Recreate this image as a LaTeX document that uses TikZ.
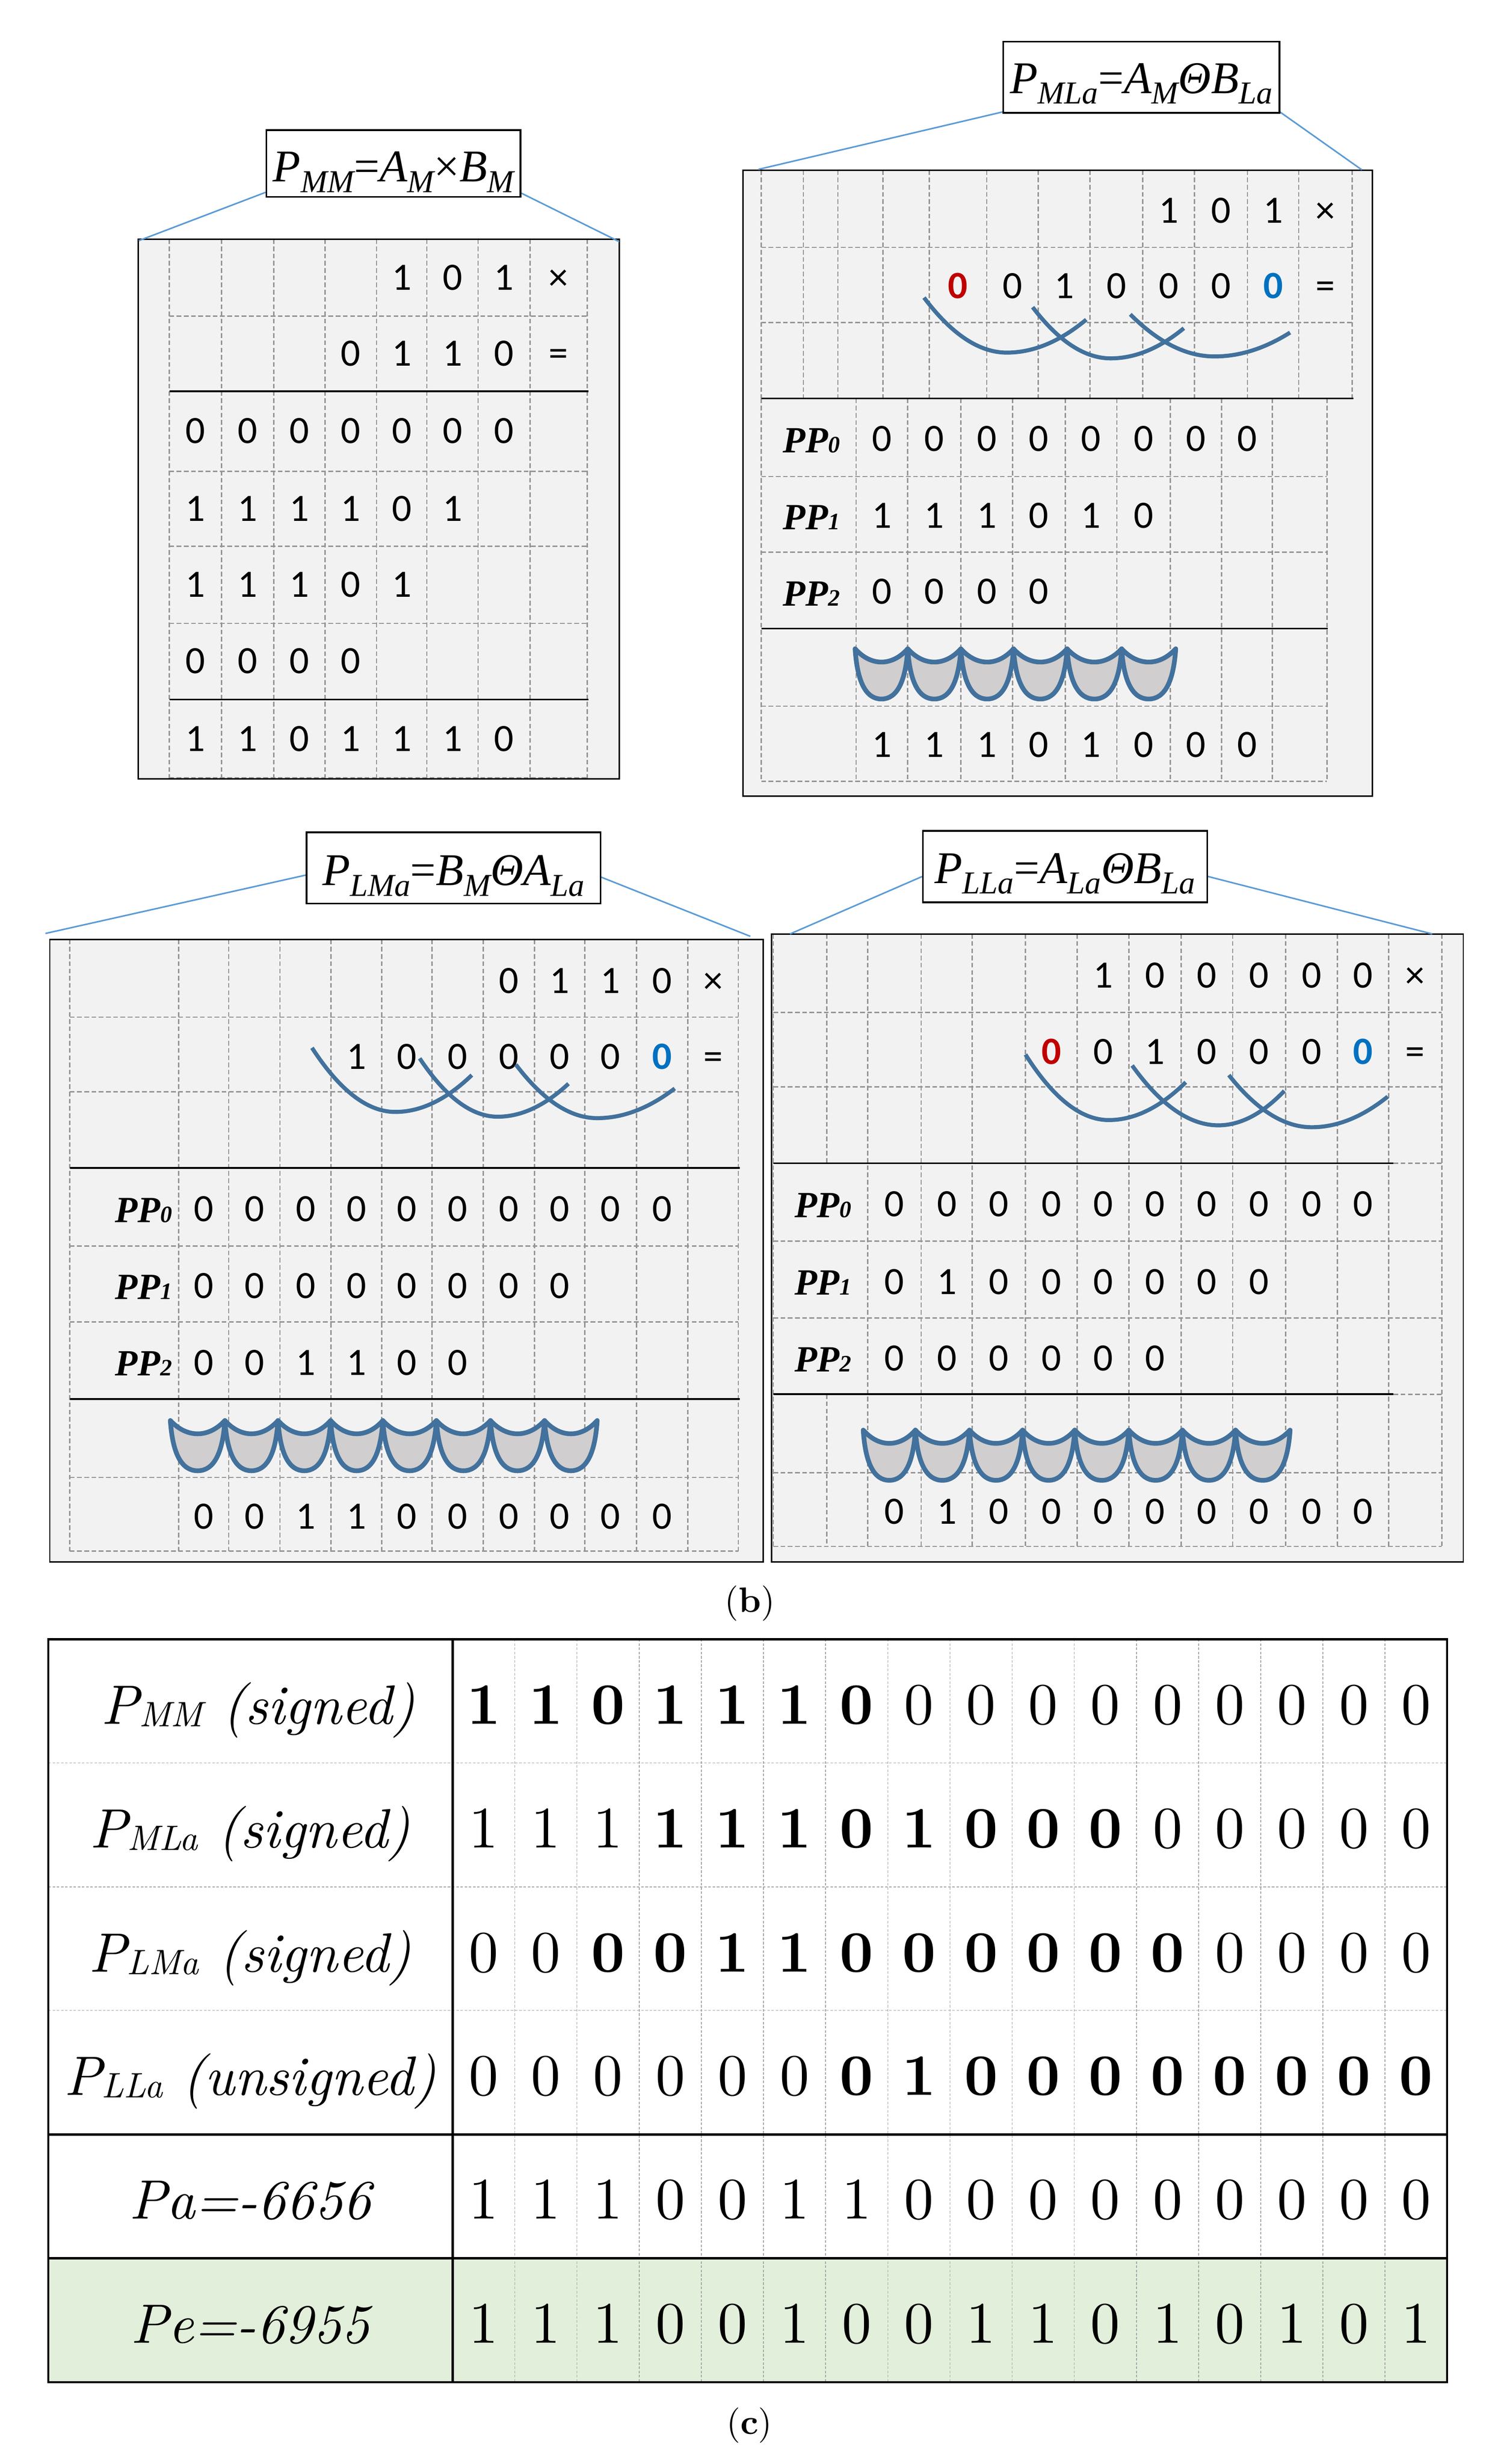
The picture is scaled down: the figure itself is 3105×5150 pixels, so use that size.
\documentclass[tikz,border=0pt]{standalone}
\usepackage{fontspec}
\newfontfamily\carl{Carlito}
\newfontfamily\tnr{Liberation Serif}
\newfontfamily\lmten{lmroman10-regular.otf}[BoldFont=lmroman10-bold.otf,ItalicFont=lmroman10-italic.otf]
\usetikzlibrary{calc}
\definecolor{panelbg}{HTML}{F2F2F2}
\definecolor{gridc}{HTML}{959595}
\definecolor{tgridc}{HTML}{A6A6A6}
\definecolor{arcc}{HTML}{41719C}
\definecolor{cupfill}{HTML}{D0CECE}
\definecolor{linkc}{HTML}{5B9BD5}
\definecolor{redd}{HTML}{C00000}
\definecolor{blued}{HTML}{0070C0}
\definecolor{greenbg}{HTML}{E2EFDA}
\newcommand\B{\bfseries}
\newcommand\RZ{\textcolor{redd}{\bfseries 0}}
\newcommand\BZ{\textcolor{blued}{\bfseries 0}}
\newcommand\sbt[1]{\raisebox{-6.3pt}{\fontsize{19}{19}\selectfont\itshape #1}}
\newcommand\tsb[1]{\raisebox{-1.5pt}{\fontsize{21}{21}\selectfont #1}}
\newcommand\PPlab[1]{PP{\fontsize{14}{14}\selectfont #1}}
\newcommand\drow[4]{\foreach \xx/\dd [count=\ii] in {#4} {\node[#3] (#1-\ii) at (\xx,#2) {\dd};}}
\newcommand\trow[3]{\foreach \dd [count=\ii from 0] in {#3} {\node[td] (#1-\ii) at ({1011+129.9*\ii},#2) {\dd};}}
\newcommand\parc[6]{\draw[arcl] (#1,#2) .. controls ({#1+(#3-#1)/3},{#2+2*(#4-#2)/3}) and ({#3-(#3-#1)/3},#4) .. (#3,#4) .. controls ({#3+(#5-#3)/3},#4) and ({#5-(#5-#3)/3},{#6+2*(#4-#6)/3}) .. (#5,#6);}
\newcommand\scallop[3]{\filldraw[cupl] (#1,#3) .. controls ({#1+0.3*(#2-#1)},{#3+37}) and ({#2-0.3*(#2-#1)},{#3+37}) .. (#2,#3) .. controls ({#2-0.04*(#2-#1)},{#3+68}) and ({#2-0.2*(#2-#1)},{#3+105}) .. ({(#1+#2)/2},{#3+105}) .. controls ({#1+0.2*(#2-#1)},{#3+105}) and ({#1+0.04*(#2-#1)},{#3+68}) .. (#1,#3) -- cycle;}
\tikzset{
 pbox/.style={fill=panelbg},
 pborder/.style={draw=black,line width=0.85pt},
 gl/.style={draw=gridc,line width=0.8pt,dash pattern=on 2.8pt off 1.5pt},
 sl/.style={draw=black,line width=1pt},
 pd/.style={font=\carl\fontsize{23}{23}\selectfont,inner sep=0pt,text height=14.5pt,text depth=0pt,anchor=center},
 ppl/.style={font=\tnr\bfseries\itshape\fontsize{22}{22}\selectfont,inner sep=0pt,anchor=base},
 ttl/.style={draw=black,line width=1pt,fill=white,inner sep=0pt,anchor=north west,font=\tnr\fontsize{27}{27}\selectfont},
 linkl/.style={draw=linkc,line width=0.9pt},
 arcl/.style={draw=arcc,line width=2.4pt},
 cupl/.style={draw=arcc,fill=cupfill,line width=2.8pt,line join=round},
 td/.style={font=\lmten\fontsize{35}{35}\selectfont,inner sep=0pt,anchor=base},
 tlab/.style={font=\lmten\itshape\fontsize{33}{33}\selectfont,inner sep=0pt,anchor=base},
 tsl/.style={draw=black,line width=1.4pt},
 tgl/.style={draw=tgridc,line width=0.45pt,dash pattern=on 1.5pt off 1pt},
 captn/.style={font=\lmten\fontsize{21}{21}\selectfont,inner sep=0pt,anchor=base}
}
\begin{document}
\begin{tikzpicture}[x=0.1mm,y=-0.1mm]
\useasboundingbox (0,0) rectangle (3105,5150);
\fill[white] (0,0) rectangle (3105,5150);

% ---------- Panel 1 : P_MM ----------
\fill[pbox] (289,500) rectangle (1294,1628);
\foreach \x in {354,463,572,679,787,892,999,1108,1227} \draw[gl] (\x,500) -- (\x,1626);
\foreach \y in {500,661,985,1142,1303,1626} \draw[gl] (354,\y) -- (1227,\y);
\draw[sl] (354,818) -- (1230,818);
\draw[sl] (354,1462) -- (1230,1462);
\draw[pborder] (289,500) rectangle (1294,1628);
\drow{a1}{580.5}{pd}{839.5/1,945.5/0,1053.5/1,1167.5/×}
\drow{a2}{739.5}{pd}{733/0,839.5/1,945.5/1,1053.5/0,1167.5/=}
\drow{a3}{901.5}{pd}{408.5/0,517.5/0,625.5/0,733/0,839.5/0,945.5/0,1053.5/0}
\drow{a4}{1063.5}{pd}{408.5/1,517.5/1,625.5/1,733/1,839.5/0,945.5/1}
\drow{a5}{1222.5}{pd}{408.5/1,517.5/1,625.5/1,733/0,839.5/1}
\drow{a6}{1382.5}{pd}{408.5/0,517.5/0,625.5/0,733/0}
\drow{a7}{1544.5}{pd}{408.5/1,517.5/1,625.5/0,733/1,839.5/1,945.5/1,1053.5/0}

% ---------- Panel 2 : P_MLa ----------
\fill[pbox] (1553,356) rectangle (2868,1664);
\foreach \x in {1591,1679,1751,1845,1942,2062,2170,2278,2388,2496,2607,2714,2826} \draw[gl] (\x,356) -- (\x,833);
\foreach \x in {1591,1789,1897,2008,2116,2226,2334,2446,2553,2659,2773} \draw[gl] (\x,833) -- (\x,1633);
\foreach \y in {356,517,674} \draw[gl] (1591,\y) -- (2826,\y);
\foreach \y in {996,1154,1476,1633} \draw[gl] (1591,\y) -- (2773,\y);
\draw[sl] (1591,833) -- (2828,833);
\draw[sl] (1591,1314) -- (2775,1314);
\draw[pborder] (1553,356) rectangle (2868,1664);
\foreach \p/\q in {1787/1897,1897/2008,2008/2118,2118/2230,2230/2344,2344/2457} {\scallop{\p}{\q}{1356}}
\drow{b1}{441}{pd}{2442/1,2551.5/0,2660.5/1,2770/×}
\drow{b2}{598}{pd}{2002/\RZ,2116/0,2224/1,2333/0,2442/0,2551.5/0,2660.5/\BZ,2770/=}
\drow{b3}{917}{pd}{1843/0,1952.5/0,2062/0,2171/0,2280/0,2390/0,2499.5/0,2606/0}
\drow{b4}{1078}{pd}{1843/1,1952.5/1,2062/1,2171/0,2280/1,2390/0}
\drow{b5}{1237}{pd}{1843/0,1952.5/0,2062/0,2171/0}
\drow{b6}{1557}{pd}{1843/1,1952.5/1,2062/1,2171/0,2280/1,2390/0,2499.5/0,2606/0}
\node[ppl] (bpp0) at (1696,946.5) {\PPlab{0}};
\node[ppl] (bpp1) at (1696,1107) {\PPlab{1}};
\node[ppl] (bpp2) at (1696,1266) {\PPlab{2}};
\parc{1931}{622}{2104}{737}{2270}{668}
\parc{2158}{642}{2321}{749}{2474}{686}
\parc{2362}{657}{2538}{745}{2696}{695}

% ---------- Panel 3 : P_LMa ----------
\fill[pbox] (104,1964) rectangle (1595,3265);
\foreach \x in {146,373,478,585,692,798,903,1010,1117,1222,1330,1437,1543} \draw[gl] (\x,1964) -- (\x,3242);
\foreach \y in {1964,2126,2282,2604,2763,3088,3242} \draw[gl] (146,\y) -- (1543,\y);
\draw[sl] (146,2441) -- (1546,2441);
\draw[sl] (146,2924) -- (1546,2924);
\draw[pborder] (104,1964) rectangle (1595,3265);
\foreach \p/\q in {356/470,470/581,581/691,691/800,800/912,912/1025,1025/1138,1138/1248} {\scallop{\p}{\q}{2969}}
\drow{c1}{2050}{pd}{1063.5/0,1169.5/1,1276/1,1383.5/0,1490/×}
\drow{c2}{2209}{pd}{745/1,850.5/0,956.5/0,1063.5/0,1169.5/0,1276/0,1383.5/\BZ,1490/=}
\drow{c3}{2527.5}{pd}{425.5/0,531.5/0,638.5/0,745/0,850.5/0,956.5/0,1063.5/0,1169.5/0,1276/0,1383.5/0}
\drow{c4}{2688.5}{pd}{425.5/0,531.5/0,638.5/0,745/0,850.5/0,956.5/0,1063.5/0,1169.5/0}
\drow{c5}{2848.5}{pd}{425.5/0,531.5/0,638.5/1,745/1,850.5/0,956.5/0}
\drow{c6}{3170}{pd}{425.5/0,531.5/0,638.5/1,745/1,850.5/0,956.5/0,1063.5/0,1169.5/0,1276/0,1383.5/0}
\node[ppl] (cpp0) at (300,2554.5) {\PPlab{0}};
\node[ppl] (cpp1) at (300,2715.5) {\PPlab{1}};
\node[ppl] (cpp2) at (300,2875.5) {\PPlab{2}};
\parc{652}{2190}{826}{2324}{986}{2247}
\parc{877}{2212}{1040}{2334}{1188}{2265}
\parc{1078}{2225}{1248}{2337}{1410}{2275}

% ---------- Panel 4 : P_LLa ----------
\fill[pbox] (1612,1952) rectangle (3058,3265);
\foreach \x in {1616,1813,1925,2032,2143,2251,2359,2468,2576,2687,2795,2902,3013} \draw[gl] (\x,1952) -- (\x,3232);
\draw[gl] (1728,1952) -- (1728,2431);
\draw[gl] (1728,2914) -- (1728,3232);
\foreach \y in {1952,2116,2272,2594,2755,3078,3232} \draw[gl] (1616,\y) -- (3013,\y);
\draw[gl] (2912,2431) -- (3013,2431);
\draw[gl] (2912,2914) -- (3013,2914);
\draw[sl] (1616,2431) -- (2912,2431);
\draw[sl] (1616,2914) -- (2912,2914);
\draw[pborder] (1612,1952) rectangle (3058,3265);
\foreach \p/\q in {1804/1913,1913/2026,2026/2137,2137/2246,2246/2359,2359/2471,2471/2582,2582/2696} {\scallop{\p}{\q}{2989}}
\drow{d1}{2039}{pd}{2305/1,2413.5/0,2522/0,2631.5/0,2741/0,2848.5/0,2957.5/×}
\drow{d2}{2199}{pd}{2197/\RZ,2305/0,2413.5/1,2522/0,2631.5/0,2741/0,2848.5/\BZ,2957.5/=}
\drow{d3}{2517.5}{pd}{1869/0,1978.5/0,2087.5/0,2197/0,2305/0,2413.5/0,2522/0,2631.5/0,2741/0,2848.5/0}
\drow{d4}{2679.5}{pd}{1869/0,1978.5/1,2087.5/0,2197/0,2305/0,2413.5/0,2522/0,2631.5/0}
\drow{d5}{2839.5}{pd}{1869/0,1978.5/0,2087.5/0,2197/0,2305/0,2413.5/0}
\drow{d6}{3160}{pd}{1869/0,1978.5/1,2087.5/0,2197/0,2305/0,2413.5/0,2522/0,2631.5/0,2741/0,2848.5/0}
\node[ppl] (dpp0) at (1720,2544.5) {\PPlab{0}};
\node[ppl] (dpp1) at (1720,2706.5) {\PPlab{1}};
\node[ppl] (dpp2) at (1720,2866.5) {\PPlab{2}};
\parc{2143}{2204}{2317}{2341}{2478}{2262}
\parc{2366}{2227}{2546}{2352}{2684}{2280}
\parc{2568}{2247}{2741}{2356}{2900}{2292}

% ---------- links and titles ----------
\coordinate (t1a) at (555,402);  \coordinate (p1l) at (290,503);
\coordinate (t1b) at (1086,402); \coordinate (p1r) at (1294,505);
\coordinate (t2a) at (2095,234); \coordinate (p2l) at (1585,354);
\coordinate (t2b) at (2672,232); \coordinate (p2r) at (2846,355);
\coordinate (t3a) at (639,1829); \coordinate (p3l) at (95,1951);
\coordinate (t3b) at (1253,1832); \coordinate (p3r) at (1568,1957);
\coordinate (t4a) at (1927,1832); \coordinate (p4l) at (1651,1952);
\coordinate (t4b) at (2521,1831); \coordinate (p4r) at (2993,1952);
\draw[linkl] (t1a) -- (p1l); \draw[linkl] (t1b) -- (p1r);
\draw[linkl] (t2a) -- (p2l); \draw[linkl] (t2b) -- (p2r);
\draw[linkl] (t3a) -- (p3l); \draw[linkl] (t3b) -- (p3r);
\draw[linkl] (t4a) -- (p4l); \draw[linkl] (t4b) -- (p4r);
\node[ttl,minimum width=53.1mm,text height=10.8mm,text depth=3.2mm] (t1) at (555,270)
  {\itshape P\sbt{MM}\upshape=\itshape A\sbt{M}\upshape×\itshape B\sbt{M}};
\node[ttl,minimum width=57.7mm,text height=10.8mm,text depth=4.1mm] (t2) at (2095,85)
  {\itshape P\sbt{MLa}\upshape=\itshape A\sbt{M}ΘB\sbt{La}};
\node[ttl,minimum width=61.4mm,text height=11.1mm,text depth=3.8mm] (t3) at (639,1738)
  {\itshape P\sbt{LMa}\upshape=\itshape B\sbt{M}ΘA\sbt{La}};
\node[ttl,minimum width=59.4mm,text height=10.9mm,text depth=4.0mm] (t4) at (1927,1735)
  {\itshape P\sbt{LLa}\upshape=\itshape A\sbt{La}ΘB\sbt{La}};

% ---------- captions ----------
\node[captn] (capb) at (1567,3370) {(\textbf{b})};
\node[captn] (capc) at (1566,5088) {(\textbf{c})};

% ---------- Table (c) ----------
\fill[greenbg] (101,4720) rectangle (3024,4979);
\foreach \i in {1,...,15} \draw[tgl] ({946+129.9*\i},3426) -- ({946+129.9*\i},4979);
\foreach \y in {3685,3944,4202} \draw[tgl] (101,\y) -- (3024,\y);
\draw[tsl] (946,3426) -- (946,4979);
\draw[tsl] (101,4461) -- (3024,4461);
\draw[tsl] (101,4720) -- (3024,4720);
\draw[tsl] (101,3426) rectangle (3024,4979);
\node[tlab] (l1) at (540,3603) {P\tsb{MM} (signed)};
\node[tlab] (l2) at (523,3862) {P\tsb{MLa} (signed)};
\node[tlab] (l3) at (523,4121) {P\tsb{LMa} (signed)};
\node[tlab] (l4) at (523,4379) {P\tsb{LLa} (unsigned)};
\node[tlab] (l5) at (523,4638) {Pa=-6656};
\node[tlab] (l6) at (523,4897) {Pe=-6955};
\trow{r1}{3603}{\B1,\B1,\B0,\B1,\B1,\B1,\B0,0,0,0,0,0,0,0,0,0}
\trow{r2}{3862}{1,1,1,\B1,\B1,\B1,\B0,\B1,\B0,\B0,\B0,0,0,0,0,0}
\trow{r3}{4121}{0,0,\B0,\B0,\B1,\B1,\B0,\B0,\B0,\B0,\B0,\B0,0,0,0,0}
\trow{r4}{4379}{0,0,0,0,0,0,\B0,\B1,\B0,\B0,\B0,\B0,\B0,\B0,\B0,\B0}
\trow{r5}{4638}{1,1,1,0,0,1,1,0,0,0,0,0,0,0,0,0}
\trow{r6}{4897}{1,1,1,0,0,1,0,0,1,1,0,1,0,1,0,1}
\end{tikzpicture}
\end{document}
